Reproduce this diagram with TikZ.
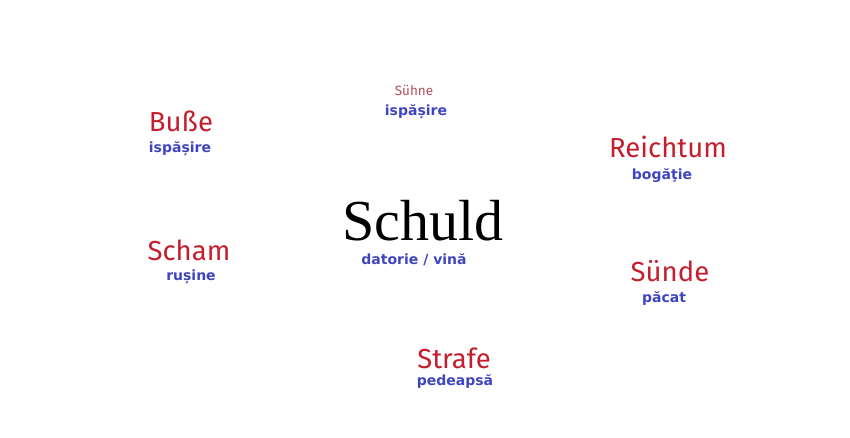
\documentclass[tikz,border=0pt]{standalone}
\usepackage{fontspec}
\newfontfamily\wordfont{Fira Sans}
\newfontfamily\glossfont{DejaVu Sans}
\newfontfamily\mainwordfont{Liberation Serif}
\definecolor{wordred}{HTML}{C41E2E}
\definecolor{softred}{HTML}{B4505A}
\definecolor{glossblue}{HTML}{3F44C0}
\tikzset{
    word/.style={text=wordred, inner sep=0pt, anchor=base,
        font=\wordfont\fontsize{27.5}{27.5}\selectfont},
    smallword/.style={word, text=softred,
        font=\wordfont\fontsize{13.5}{13.5}\selectfont},
    gloss/.style={text=glossblue, inner sep=0pt, anchor=base,
        font=\glossfont\bfseries\fontsize{14}{14}\selectfont},
    mainword/.style={text=black, inner sep=0pt, anchor=base,
        font=\mainwordfont\fontsize{58}{58}\selectfont}
}
\begin{document}
\begin{tikzpicture}[x=1pt, y=-1pt]
        \useasboundingbox (0,0) rectangle (850,437);
        % centre word
        \node[mainword] (schuld) at (423,240) {Schuld};
        \node[gloss] (schuldgloss) at (414,264) {datorie / vină};
        % words round it
        \node[smallword] (suehne) at (414,95) {Sühne};
        \node[gloss] (suehnegloss) at (416,115) {ispășire};
        \node[word] (busse) at (181,131) {Buße};
        \node[gloss] (bussegloss) at (180,152) {ispășire};
        \node[word] (reichtum) at (668,157) {Reichtum};
        \node[gloss] (reichtumgloss) at (662,179) {bogăţie};
        \node[word] (scham) at (189,260) {Scham};
        \node[gloss] (schamgloss) at (191,280) {rușine};
        \node[word] (suende) at (670,281) {Sünde};
        \node[gloss] (suendegloss) at (664,302) {păcat};
        \node[word] (strafe) at (454,368) {Strafe};
        \node[gloss] (strafegloss) at (455,385) {pedeapsă};
    \end{tikzpicture}
\end{document}
